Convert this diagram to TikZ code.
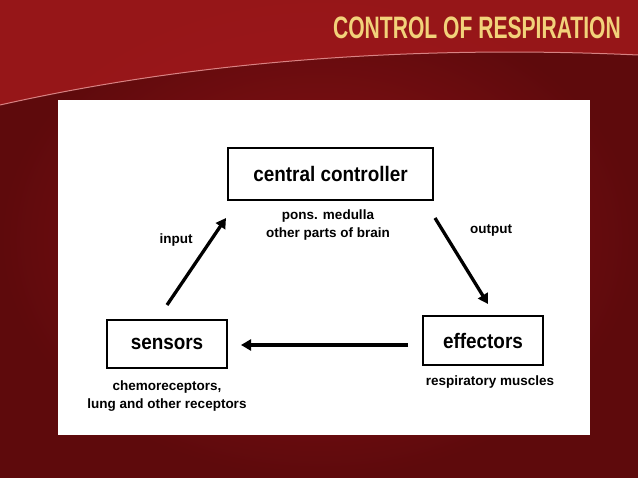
\documentclass[tikz,border=0pt]{standalone}
\usepackage{fontspec}
\setmainfont{Liberation Sans}
\usetikzlibrary{arrows.meta}
\definecolor{bgdark}{HTML}{5E0A0C}
\definecolor{bgmid}{HTML}{8E1216}
\definecolor{bgtop}{HTML}{A5191C}
\definecolor{titlec}{HTML}{F2D27A}
\tikzset{
 box/.style={draw=black,line width=1.2pt,font=\bfseries\fontsize{21}{23}\selectfont,inner sep=0pt},
 lbl/.style={font=\bfseries\fontsize{13.5}{15}\selectfont,align=center,inner sep=0pt},
 arr/.style={line width=3.3pt,-{Triangle[length=10pt,width=11pt]}}
}
\begin{document}
\begin{tikzpicture}[x=1pt,y=-1pt]
\useasboundingbox (0,0) rectangle (638,478);
\shade[inner color=bgmid,outer color=bgdark] (0,0) rectangle (638,478);
\fill[bgtop,opacity=0.8] (0,0) -- (638,0) -- (638,55) .. controls (420,45) and (200,60) .. (0,105) -- cycle;
\draw[white!70!red,line width=1pt,opacity=0.7] (0,105) .. controls (200,60) and (420,45) .. (638,55);
\node[font=\bfseries\fontsize{31}{33}\selectfont,text=titlec,anchor=east,inner sep=0pt] (title) at (621,28) {\scalebox{0.68}[1]{CONTROL OF RESPIRATION}};
\fill[white] (58,100) rectangle (590,435);
\node[box,minimum width=205,minimum height=52] (cc) at (330.5,174) {\scalebox{0.9}[1]{central controller}};
\node[box,minimum width=120,minimum height=48] (se) at (167,344) {\scalebox{0.9}[1]{sensors}};
\node[box,minimum width=120,minimum height=49] (ef) at (483,340.5) {\scalebox{0.9}[1]{effectors}};
\node[lbl] (pons) at (328,225) {pons. medulla\\[3pt]other parts of brain};
\node[lbl] (in) at (176,240) {input};
\node[lbl] (out) at (491,230) {output};
\node[lbl] (chem) at (167,396) {chemoreceptors,\\[3pt]lung and other receptors};
\node[lbl] (resp) at (490,382) {respiratory muscles};
\coordinate (a1) at (167,305); \coordinate (a2) at (226,218);
\coordinate (b1) at (435,218); \coordinate (b2) at (488,304);
\coordinate (c1) at (408,345); \coordinate (c2) at (241,345);
\draw[arr] (a1) -- (a2);
\draw[arr] (b1) -- (b2);
\draw[arr] (c1) -- (c2);
\end{tikzpicture}
\end{document}
